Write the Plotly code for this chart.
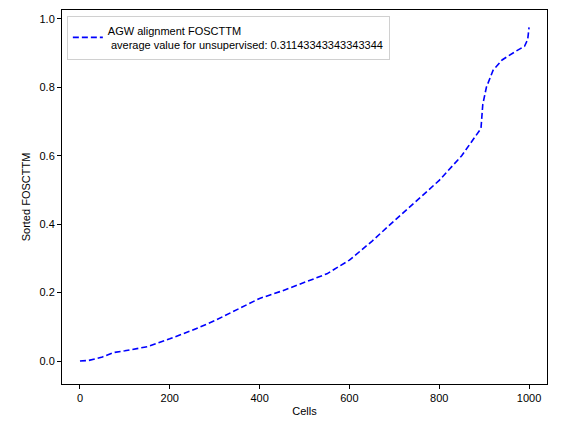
import plotly.graph_objects as go

# sorted FOSCTTM values
cells = [0, 20, 50, 75, 100, 150, 200, 250, 300, 350, 400, 450, 500, 550, 600,
         650, 700, 750, 800, 850, 880, 893, 897, 905, 920, 940, 970, 990, 997, 1000]
foscttm = [0.0, 0.002, 0.012, 0.025, 0.03, 0.042, 0.065, 0.09, 0.118, 0.15, 0.183,
           0.205, 0.23, 0.255, 0.295, 0.35, 0.41, 0.47, 0.528, 0.60, 0.655, 0.68,
           0.75, 0.80, 0.85, 0.88, 0.905, 0.92, 0.94, 0.975]
avg_value = "0.31143343343343344"

fig = go.Figure()
fig.add_trace(go.Scatter(
    x=cells, y=foscttm, mode="lines",
    name="AGW alignment FOSCTTM<br> average value for unsupervised: " + avg_value,
    line=dict(color="blue", width=1.6, dash="6px,3px"),
))

axis_style = dict(showgrid=False, zeroline=False, showline=True, mirror=True,
                  linecolor="black", linewidth=1, ticks="outside", ticklen=4,
                  tickcolor="black", tickfont=dict(size=11, color="black"))
fig.update_xaxes(range=[-40, 1040], tickvals=[0, 200, 400, 600, 800, 1000],
                 title=dict(text="Cells", font=dict(size=11, color="black"), standoff=4),
                 **axis_style)
fig.update_yaxes(range=[-0.067, 1.026], tickvals=[0, 0.2, 0.4, 0.6, 0.8, 1.0],
                 tickformat=".1f",
                 title=dict(text="Sorted FOSCTTM", font=dict(size=11, color="black"), standoff=6),
                 **axis_style)
fig.update_layout(
    width=562, height=428,
    margin=dict(l=54, r=23, t=2, b=52, autoexpand=False),
    plot_bgcolor="white", paper_bgcolor="white",
    font=dict(family="Liberation Sans, Arial, sans-serif", size=11, color="black"),
    showlegend=True,
    legend=dict(x=0.01, y=0.985, xanchor="left", yanchor="top",
                bordercolor="#d0d0d0", borderwidth=1, bgcolor="rgba(255,255,255,0.8)",
                font=dict(size=11)),
)
fig.write_html("out.html")
